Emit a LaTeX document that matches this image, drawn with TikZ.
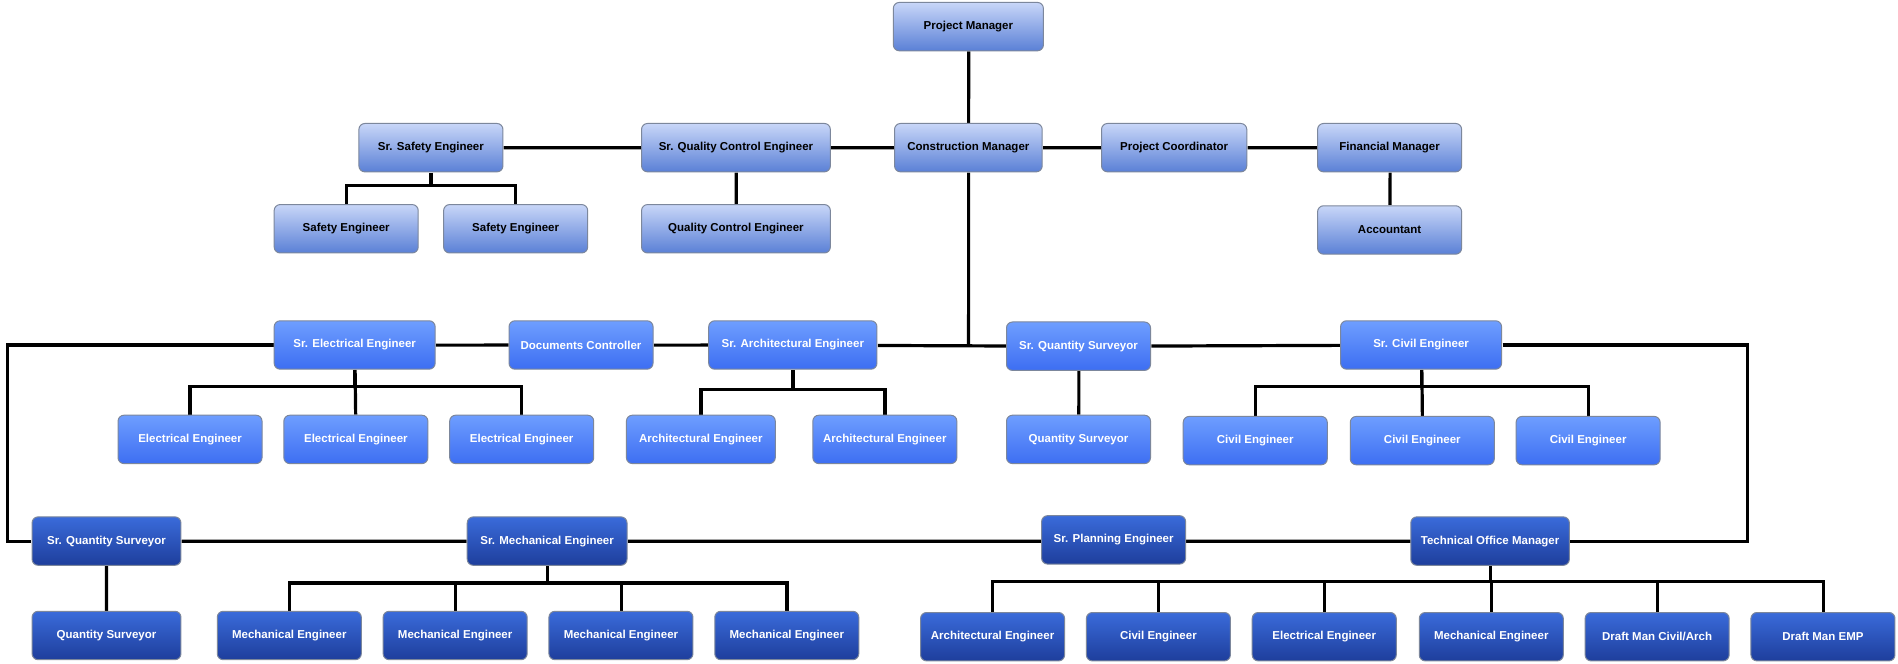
\documentclass[tikz,border=0pt]{standalone}
\usepackage{fontspec}
\setmainfont{Liberation Sans}
\definecolor{tA}{HTML}{C8D6F8}\definecolor{tB}{HTML}{5A80D6}
\definecolor{mA}{HTML}{6E9EFF}\definecolor{mB}{HTML}{3D6EF2}
\definecolor{bA}{HTML}{3A6BDA}\definecolor{bB}{HTML}{1E3E9C}
\definecolor{bd}{HTML}{7C879C}
\pgfdeclarelayer{bg}
\pgfsetlayers{bg,main}
\begin{document}
\begin{tikzpicture}[x=1pt,y=-1pt,scale=1.2105,every node/.append style={transform shape},
 box/.style={rounded corners=6pt,draw=bd,line width=1pt,minimum height=40pt,
   font=\fontsize{9.5}{11}\selectfont\bfseries,inner sep=2pt},
 top/.style={box,top color=tA,bottom color=tB,text=black},
 mid/.style={box,top color=mA,bottom color=mB,text=white},
 bot/.style={box,top color=bA,bottom color=bB,text=white},
 ln/.style={line width=3.2pt,black}]
\coordinate (L1) at (6,285);\coordinate (L2) at (6,447);
\coordinate (R1) at (1443,285);\coordinate (R2) at (1443,447);
\coordinate (cmd) at (800,285);
% nodes
\node[top,minimum width=124pt] (pm) at (800,22) {Project Manager};
\node[top,minimum width=119pt] (sse) at (356,122) {Sr. Safety Engineer};
\node[top,minimum width=156pt] (sqc) at (608,122) {Sr. Quality Control Engineer};
\node[top,minimum width=122pt] (cm) at (800,122) {Construction Manager};
\node[top,minimum width=120pt] (pc) at (970,122) {Project Coordinator};
\node[top,minimum width=119pt] (fm) at (1148,122) {Financial Manager};
\node[top,minimum width=119pt] (se1) at (286,189) {Safety Engineer};
\node[top,minimum width=119pt] (se2) at (426,189) {Safety Engineer};
\node[top,minimum width=156pt] (qce) at (608,189) {Quality Control Engineer};
\node[top,minimum width=119pt] (acc) at (1148,190) {Accountant};
\node[mid,minimum width=133pt] (see) at (293,285) {Sr. Electrical Engineer};
\node[mid,minimum width=119pt] (dc) at (480,285) {Documents Controller};
\node[mid,minimum width=139pt] (sae) at (655,285) {Sr. Architectural Engineer};
\node[mid,minimum width=119pt] (sqs) at (891,286) {Sr. Quantity Surveyor};
\node[mid,minimum width=133pt] (sce) at (1174,285) {Sr. Civil Engineer};
\node[mid,minimum width=119pt] (ee1) at (157,363) {Electrical Engineer};
\node[mid,minimum width=119pt] (ee2) at (294,363) {Electrical Engineer};
\node[mid,minimum width=119pt] (ee3) at (431,363) {Electrical Engineer};
\node[mid,minimum width=123pt] (ae1) at (579,363) {Architectural Engineer};
\node[mid,minimum width=119pt] (ae2) at (731,363) {Architectural Engineer};
\node[mid,minimum width=119pt] (qs1) at (891,363) {Quantity Surveyor};
\node[mid,minimum width=119pt] (ce1) at (1037,364) {Civil Engineer};
\node[mid,minimum width=119pt] (ce2) at (1175,364) {Civil Engineer};
\node[mid,minimum width=119pt] (ce3) at (1312,364) {Civil Engineer};
\node[bot,minimum width=123pt] (sqs2) at (88,447) {Sr. Quantity Surveyor};
\node[bot,minimum width=132pt] (sme) at (452,447) {Sr. Mechanical Engineer};
\node[bot,minimum width=119pt] (spe) at (920,446) {Sr. Planning Engineer};
\node[bot,minimum width=131pt] (tom) at (1231,447) {Technical Office Manager};
\node[bot,minimum width=123pt] (qs2) at (88,525) {Quantity Surveyor};
\node[bot,minimum width=119pt] (me1) at (239,525) {Mechanical Engineer};
\node[bot,minimum width=119pt] (me2) at (376,525) {Mechanical Engineer};
\node[bot,minimum width=119pt] (me3) at (513,525) {Mechanical Engineer};
\node[bot,minimum width=119pt] (me4) at (650,525) {Mechanical Engineer};
\node[bot,minimum width=119pt] (t1) at (820,526) {Architectural Engineer};
\node[bot,minimum width=119pt] (t2) at (957,526) {Civil Engineer};
\node[bot,minimum width=119pt] (t3) at (1094,526) {Electrical Engineer};
\node[bot,minimum width=119pt] (t4) at (1232,526) {Mechanical Engineer};
\node[bot,minimum width=119pt] (t5) at (1369,526) {Draft Man Civil/Arch};
\node[bot,minimum width=119pt] (t6) at (1506,526) {Draft Man EMP};
% connectors
\begin{pgfonlayer}{bg}
\fill[white] (0,0) rectangle (1568,548.5);
\draw[ln] (pm) -- (cm);
\draw[ln] (sse) -- (sqc); \draw[ln] (sqc) -- (cm); \draw[ln] (cm) -- (pc); \draw[ln] (pc) -- (fm);
\draw[ln] (sse.south) -- ++(0,11) -| (se1.north); \draw[ln] (sse.south) ++(0,11) -| (se2.north);
\draw[ln] (sqc) -- (qce); \draw[ln] (fm) -- (acc);
\draw[ln] (cm) -- (cmd);
\draw[ln] (see) -- (dc); \draw[ln] (dc) -- (sae); \draw[ln] (sae) -- (sqs); \draw[ln] (sqs) -- (sce);
\draw[ln] (see.west) -- (L1) -- (L2) -- (sqs2.west);
\draw[ln] (sce.east) -- (R1) -- (R2) -- (tom.east);
\draw[ln] (sqs2) -- (sme); \draw[ln] (sme) -- (tom);
\draw[ln] (see.south) -- ++(0,14) -| (ee1.north); \draw[ln] (see.south) ++(0,14) -| (ee3.north); \draw[ln] (see) -- (ee2);
\draw[ln] (sae.south) -- ++(0,16) -| (ae1.north); \draw[ln] (sae.south) ++(0,16) -| (ae2.north);
\draw[ln] (sqs) -- (qs1);
\draw[ln] (sce.south) -- ++(0,14) -| (ce1.north); \draw[ln] (sce.south) ++(0,14) -| (ce3.north); \draw[ln] (sce) -- (ce2);
\draw[ln] (sqs2) -- (qs2);
\draw[ln] (sme.south) -- ++(0,14) -| (me1.north); \draw[ln] (sme.south) ++(0,14) -| (me4.north);
\draw[ln] (sme.south) ++(0,14) -| (me2.north); \draw[ln] (sme.south) ++(0,14) -| (me3.north);
\draw[ln] (tom.south) -- ++(0,13) -| (t1.north);
\foreach \t in {t2,t3,t4,t5,t6} \draw[ln] (tom.south) ++(0,13) -| (\t.north);
\end{pgfonlayer}
\pgfresetboundingbox
\path[use as bounding box] (0,0) rectangle (1568,548.5);
\end{tikzpicture}
\end{document}
